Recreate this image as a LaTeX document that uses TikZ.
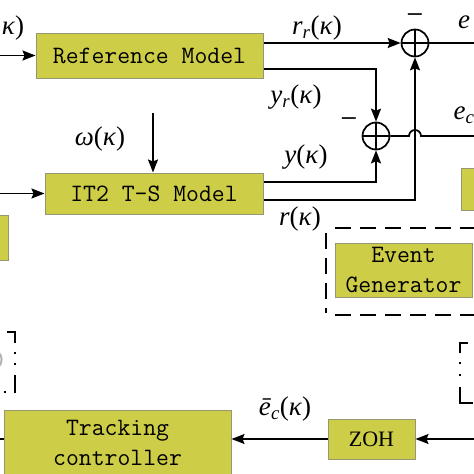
\documentclass[tikz,border=0pt]{standalone}
\usepackage{fontspec}
\newfontfamily\zohfont{Liberation Serif}
\usetikzlibrary{arrows.meta,calc}
\definecolor{blockgelb}{RGB}{205,205,72}
\definecolor{blockrand}{RGB}{150,150,115}
\newcommand{\sig}[2]{\textit{#1}\textsubscript{\textit{#2}}}
\begin{document}
\begin{tikzpicture}[x=1pt,y=-1pt,line width=1.7pt,
	blk/.style={draw=blockrand,line width=1pt,fill=blockgelb,inner sep=0pt,align=center,font=\fontsize{25}{30}\selectfont\ttfamily},
	pfeil/.style={-{Stealth[length=13pt,width=10pt,inset=2pt]}},
	summe/.style={circle,draw,line width=1.7pt,minimum size=27pt,inner sep=0pt,
		path picture={\draw[line width=1.2pt] (path picture bounding box.north) -- (path picture bounding box.south) (path picture bounding box.west) -- (path picture bounding box.east);}},
	lbl/.style={font=\zohfont\fontsize{27}{30}\selectfont},
	minus/.style={font=\zohfont\bfseries\fontsize{24}{26}\selectfont,anchor=base,inner sep=0pt,text height=9pt,text depth=0pt},
	dsh/.style={dash pattern=on 16pt off 9pt}]
	\useasboundingbox (0,0) rectangle (474,474);
	% blocks
	\node[blk,name=refm,minimum width=227pt,minimum height=45pt] at (149.5,55.5) {Reference Model};
	\node[blk,name=ts,minimum width=218pt,minimum height=41pt] at (154,193.5) {IT2 T-S Model};
	\node[blk,name=evg,minimum width=137pt,minimum height=54pt] at (403.5,270) {Event\\Generator};
	\node[blk,name=track,minimum width=227pt,minimum height=65pt] at (117.5,442.5) {Tracking\\controller};
	\node[blk,name=zoh,minimum width=87pt,minimum height=40pt,font=\zohfont\fontsize{22}{24}\selectfont] at (371.5,439) {ZOH};
	\node[blk,name=rblk,minimum width=40pt,minimum height=42pt] at (481,189) {};
	\node[blk,name=lblk,minimum width=38pt,minimum height=45pt] at (-11,237.5) {};
	% summing points
	\node[summe,name=sumA] at (415,43) {};
	\node[summe,name=sumB] at (376,136) {};
	% free ends
	\coordinate (inR) at (0,55.5);
	\coordinate (inT) at (0,193.5);
	\coordinate (inW) at (153,113);
	\coordinate (outE) at (474,43);
	\coordinate (outEc) at (474,136);
	\coordinate (inZ) at (474,439);
	\coordinate (outT) at (0,439);
	% signals
	\draw[pfeil] (inR) -- (refm);
	\draw[pfeil] (inT) -- (ts);
	\draw[pfeil] (inW) -- (inW |- ts.north);
	\draw[pfeil] (refm.east |- sumA) -- (sumA);
	\draw[pfeil] ([yshift=-13.5pt]refm.east) -| (sumB);
	\draw[pfeil] ([yshift=11.5pt]ts.east) -| (sumB);
	\draw[pfeil] ([yshift=-6.5pt]ts.east) -| (sumA);
	\draw (sumA) -- (outE);
	\draw (sumB) -- ([xshift=-6pt]sumA |- sumB) arc[start angle=180,end angle=360,radius=6] -- (outEc);
	\draw[pfeil] (inZ) -- (zoh);
	\draw[pfeil] (zoh.west) -- (track.east |- zoh.west);
	\draw (track.west |- zoh.west) -- (outT);
	% labels
	\node[lbl,name=lk] at (13,28) {\textit{κ})};
	\node[lbl,name=lrr] at (317,28) {\sig{r}{r}(\textit{κ})};
	\node[lbl,name=lyr] at (296,97) {\sig{y}{r}(\textit{κ})};
	\node[lbl,name=ly] at (306,157) {\textit{y}(\textit{κ})};
	\node[lbl,name=lr] at (300,219) {\textit{r}(\textit{κ})};
	\node[lbl,name=lw] at (100,139) {\textit{ω}(\textit{κ})};
	\node[lbl,name=le] at (464,22) {\textit{e}};
	\node[lbl,name=lec] at (464,115) {\sig{e}{c}};
	\node[lbl,name=lecb] at (285,409) {\sig{ē}{c}(\textit{κ})};
	\node[minus,name=mA] at (415,22) {\scalebox{1.25}[1]{−}};
	\node[minus,name=mB] at (349,126) {\scalebox{1.25}[1]{−}};
	% dashed frames
	\draw[dsh] (335,228) -- (474,228);
	\draw[dsh] (326,233) -- (326,313);
	\draw[dsh] (335,315) -- (474,315);
	\draw (468,343) -| (460,353);
	\draw (460,362) -- (460,364);
	\draw (460,374) -- (460,376);
	\draw (460,387) |- (473,403);
	\draw (7,332) -| (15,343);
	\draw (15,352) -- (15,354);
	\draw (15,363) -- (15,365);
	\draw (15,375) -- (15,393);
	\draw (4,392) -- (6,392);
	\draw[gray!60,line width=2pt] (-2,352) arc[start angle=-50,end angle=50,radius=10];
\end{tikzpicture}
\end{document}
